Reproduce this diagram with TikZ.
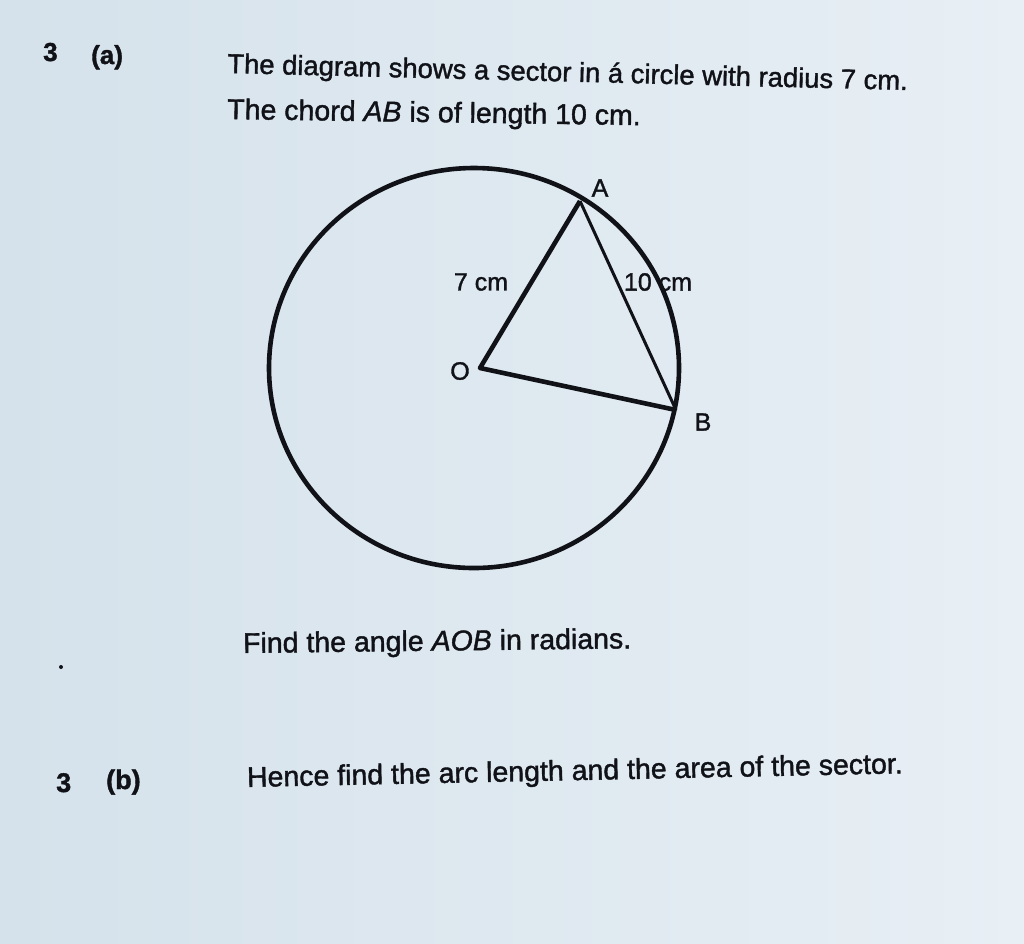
\documentclass[tikz,border=0pt]{standalone}
\usepackage{fontspec}
\setmainfont{Liberation Sans}[FakeBold=1.4]
\definecolor{ink}{RGB}{16,18,24}
\definecolor{paperL}{RGB}{213,226,235}
\definecolor{paperR}{RGB}{232,239,245}
\tikzset{
  body/.style={anchor=base west, inner sep=0pt, text=ink, font=\fontsize{28.5}{34}\selectfont},
  qnum/.style={anchor=base west, inner sep=0pt, text=ink, font=\fontsize{26}{30}\selectfont\bfseries},
  lbl/.style={inner sep=0pt, text=ink, font=\fontsize{25}{29}\selectfont},
  thick line/.style={draw=ink, line width=4.6pt, line join=round},
  thin line/.style={draw=ink, line width=3pt, line join=round}
}
\begin{document}
\begin{tikzpicture}[x=1pt,y=-1pt]
\shade[left color=paperL, right color=paperR] (0,0) rectangle (1024,943);
\useasboundingbox (0,0) rectangle (1024,943);

% question headings
\node[qnum] (n3a) at (43,61) {3};
\node[qnum] (pa) at (91,64) {(a)};
\node[body, font=\fontsize{27.4}{33}\selectfont, rotate=-1.43] (l1) at (227,73) {The diagram shows a sector in á circle with radius 7 cm.};
\node[body, rotate=-0.85] (l2) at (227,119) {The chord \textit{AB} is of length 10 cm.};

% diagram
\coordinate (C) at (474,368);
\coordinate (O) at (480,368);
\coordinate (A) at (580,201);
\coordinate (B) at (676,410);
\draw[thick line] (C) ellipse [x radius=205, y radius=200];
\draw[thick line] (A) -- (O) -- (B);
\draw[thin line] (A) -- (B);
\node[lbl] (la) at (600,188) {A};
\node[lbl] (lb) at (703,422) {B};
\node[lbl] (lo) at (460,371) {O};
\node[lbl] (l7) at (481,282) {7 cm};
\node[lbl] (l10) at (658,282) {10 cm};

% part (a) question
\node[body, rotate=0.7] (find) at (243,653) {Find the angle \textit{AOB} in radians.};
\fill[ink] (61,667) circle (2) node (dot) {};

% part (b)
\node[qnum, font=\fontsize{27}{30}\selectfont\bfseries] (n3b) at (56,792) {3};
\node[qnum, font=\fontsize{27}{30}\selectfont\bfseries] (pb) at (106,789) {(b)};
\node[body, rotate=1.2] (hence) at (247,787) {Hence find the arc length and the area of the sector.};
\end{tikzpicture}
\end{document}
